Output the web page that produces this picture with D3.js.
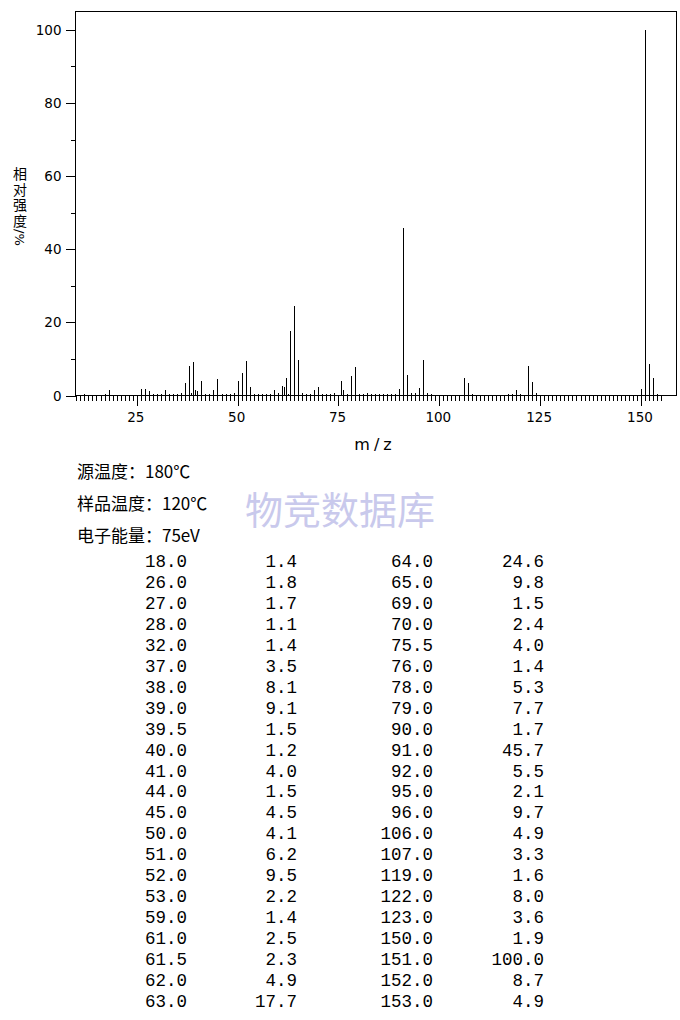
<!DOCTYPE html>
<html>
<head>
<meta charset="utf-8">
<script src="https://cdn.jsdelivr.net/npm/d3@7"></script>
<style>
  html, body { margin: 0; padding: 0; background: #fff; }
  svg { display: block; }
</style>
</head>
<body>
<div id="chart"></div>
<script>
// peak list as printed in the table (m/z, relative intensity)
const peakMz = [18, 26, 27, 28, 32, 37, 38, 39, 39.5, 40, 41, 44, 45, 50, 51, 52, 53, 59, 61, 61.5, 62, 63,
  64, 65, 69, 70, 75.5, 76, 78, 79, 90, 91, 92, 95, 96, 106, 107, 119, 122, 123, 150, 151, 152, 153];
const peakInt = [1.4, 1.8, 1.7, 1.1, 1.4, 3.5, 8.1, 9.1, 1.5, 1.2, 4.0, 1.5, 4.5, 4.1, 6.2, 9.5, 2.2, 1.4, 2.5, 2.3, 4.9, 17.7,
  24.6, 9.8, 1.5, 2.4, 4.0, 1.4, 5.3, 7.7, 1.7, 45.7, 5.5, 2.1, 9.7, 4.9, 3.3, 1.6, 8.0, 3.6, 1.9, 100.0, 8.7, 4.9];

// small peaks seen in the spectrum but not in the table (estimated)
const minorMz = [12, 17, 29, 30, 31, 33, 34, 35, 36, 38.5, 42, 43, 46, 47, 48, 49, 54, 55, 56, 57, 58, 60, 62.5,
  66, 67, 68, 71, 72, 73, 74, 77, 80, 81, 82, 83, 84, 85, 86, 87, 88, 89, 93, 94, 97, 98, 108, 117, 118, 120, 124, 154];
const minorInt = [0.4, 0.4, 0.4, 0.3, 0.4, 0.4, 0.3, 0.3, 0.6, 0.6, 0.3, 0.4, 0.4, 0.3, 0.3, 0.8, 0.4, 0.3, 0.3, 0.3, 0.5, 0.7, 0.3,
  0.7, 0.4, 0.5, 0.5, 0.5, 0.5, 0.7, 0.3, 0.3, 0.3, 0.6, 0.5, 0.4, 0.3, 0.4, 0.4, 0.4, 0.3, 0.6, 0.6, 0.8, 0.5, 0.3, 0.3, 0.3, 0.3, 0.8, 0.3];

const yTicks = [0, 20, 40, 60, 80, 100];
const xTicks = [25, 50, 75, 100, 125, 150];

const infoLines = ["源温度：180℃", "样品温度：120℃", "电子能量：75eV"];

const width = 680, height = 1020;
const plotLeft = 75.5, plotRight = 676.5, plotTop = 11.5, plotBottom = 395.5;

const x = d3.scaleLinear().domain([9.8, 158.8]).range([plotLeft, plotRight]);
const y = d3.scaleLinear().domain([0, 105]).range([plotBottom, plotTop]);
const px = v => Math.round(x(v)) + 0.5;

const svg = d3.select("#chart").append("svg")
  .attr("width", width)
  .attr("height", height)
  .attr("viewBox", [0, 0, width, height]);

svg.append("rect").attr("width", width).attr("height", height).attr("fill", "#fff");

// frame
svg.append("rect")
  .attr("x", plotLeft).attr("y", plotTop)
  .attr("width", plotRight - plotLeft).attr("height", plotBottom - plotTop)
  .attr("fill", "none").attr("stroke", "#000").attr("stroke-width", 1)
  .attr("shape-rendering", "crispEdges");

// y axis: labelled ticks every 20, short ones in between
const yAxis = svg.append("g").attr("shape-rendering", "crispEdges");
yAxis.selectAll("line")
  .data(d3.range(0, 101, 10))
  .join("line")
    .attr("x1", d => d % 20 === 0 ? plotLeft - 10 : plotLeft - 5)
    .attr("x2", plotLeft)
    .attr("y1", d => Math.round(y(d)) + 0.5)
    .attr("y2", d => Math.round(y(d)) + 0.5)
    .attr("stroke", "#000");
svg.append("g").selectAll("text")
  .data(yTicks)
  .join("text")
    .attr("x", plotLeft - 14)
    .attr("y", d => y(d) + 5)
    .attr("text-anchor", "end")
    .attr("font-family", "DejaVu Sans, sans-serif")
    .attr("font-size", 13.5)
    .text(d => d);

// x axis: tick every unit, long ones every 25
const xAxis = svg.append("g").attr("shape-rendering", "crispEdges");
xAxis.selectAll("line")
  .data(d3.range(10, 156, 1))
  .join("line")
    .attr("x1", d => px(d)).attr("x2", d => px(d))
    .attr("y1", plotBottom)
    .attr("y2", d => d % 25 === 0 ? plotBottom + 10 : plotBottom + 5)
    .attr("stroke", "#000");
svg.append("g").selectAll("text")
  .data(xTicks)
  .join("text")
    .attr("x", d => x(d) - 1)
    .attr("y", 422)
    .attr("text-anchor", "middle")
    .attr("font-family", "DejaVu Sans, sans-serif")
    .attr("font-size", 13.5)
    .text(d => d);

svg.append("text")
  .attr("x", 375).attr("y", 450)
  .attr("text-anchor", "middle")
  .attr("font-family", "DejaVu Sans, sans-serif")
  .attr("font-size", 16)
  .attr("letter-spacing", 4)
  .text("m/z");

// y title: CJK characters stacked in one text, "/%" turned sideways below
const yTitle = svg.append("text")
  .attr("font-family", "Noto Sans CJK SC, sans-serif")
  .attr("font-size", 14)
  .attr("text-anchor", "middle");
yTitle.selectAll("tspan")
  .data(["相", "对", "强", "度"])
  .join("tspan")
    .attr("x", 20)
    .attr("y", (d, i) => 179 + i * 15.5)
    .text(d => d);
svg.append("text")
  .attr("transform", "translate(15,229) rotate(90)")
  .attr("font-family", "DejaVu Sans, sans-serif")
  .attr("font-size", 13)
  .text("/%");

// spectrum sticks
const peaks = peakMz.map((m, i) => ({ mz: m, v: peakInt[i] }))
  .concat(minorMz.map((m, i) => ({ mz: m, v: minorInt[i] })));

svg.append("g")
  .attr("shape-rendering", "crispEdges")
  .selectAll("line")
  .data(peaks)
  .join("line")
    .attr("x1", d => px(d.mz)).attr("x2", d => px(d.mz))
    .attr("y1", plotBottom)
    .attr("y2", d => y(d.v))
    .attr("stroke", "#000")
    .attr("stroke-width", 1);

// watermark
svg.append("text")
  .attr("x", 340).attr("y", 524)
  .attr("text-anchor", "middle")
  .attr("font-family", "Noto Sans CJK SC, sans-serif")
  .attr("font-size", 38)
  .attr("fill", "#c9c9ec")
  .text("物竞数据库");

// instrument conditions
svg.append("g").selectAll("text")
  .data(infoLines)
  .join("text")
    .attr("x", 77)
    .attr("y", (d, i) => 478 + i * 32)
    .attr("font-family", "Noto Sans CJK SC, sans-serif")
    .attr("font-size", 17)
    .text(d => d);

// peak table: two pairs of columns
const rows = peakMz.length / 2;
const colRight = [187, 297, 433, 544];
const fmt = d3.format(".1f");
const cells = [];
peakMz.forEach((m, i) => {
  const col = i < rows ? 0 : 2;
  const row = i % rows;
  cells.push({ x: colRight[col], row, t: fmt(m) });
  cells.push({ x: colRight[col + 1], row, t: fmt(peakInt[i]) });
});

svg.append("g").selectAll("text")
  .data(cells)
  .join("text")
    .attr("x", d => d.x)
    .attr("y", d => 567 + d.row * 20.95)
    .attr("text-anchor", "end")
    .attr("font-family", "Liberation Mono, Courier New, monospace")
    .attr("font-size", 17.5)
    .attr("fill", "#000")
    .text(d => d.t);
</script>
</body>
</html>
